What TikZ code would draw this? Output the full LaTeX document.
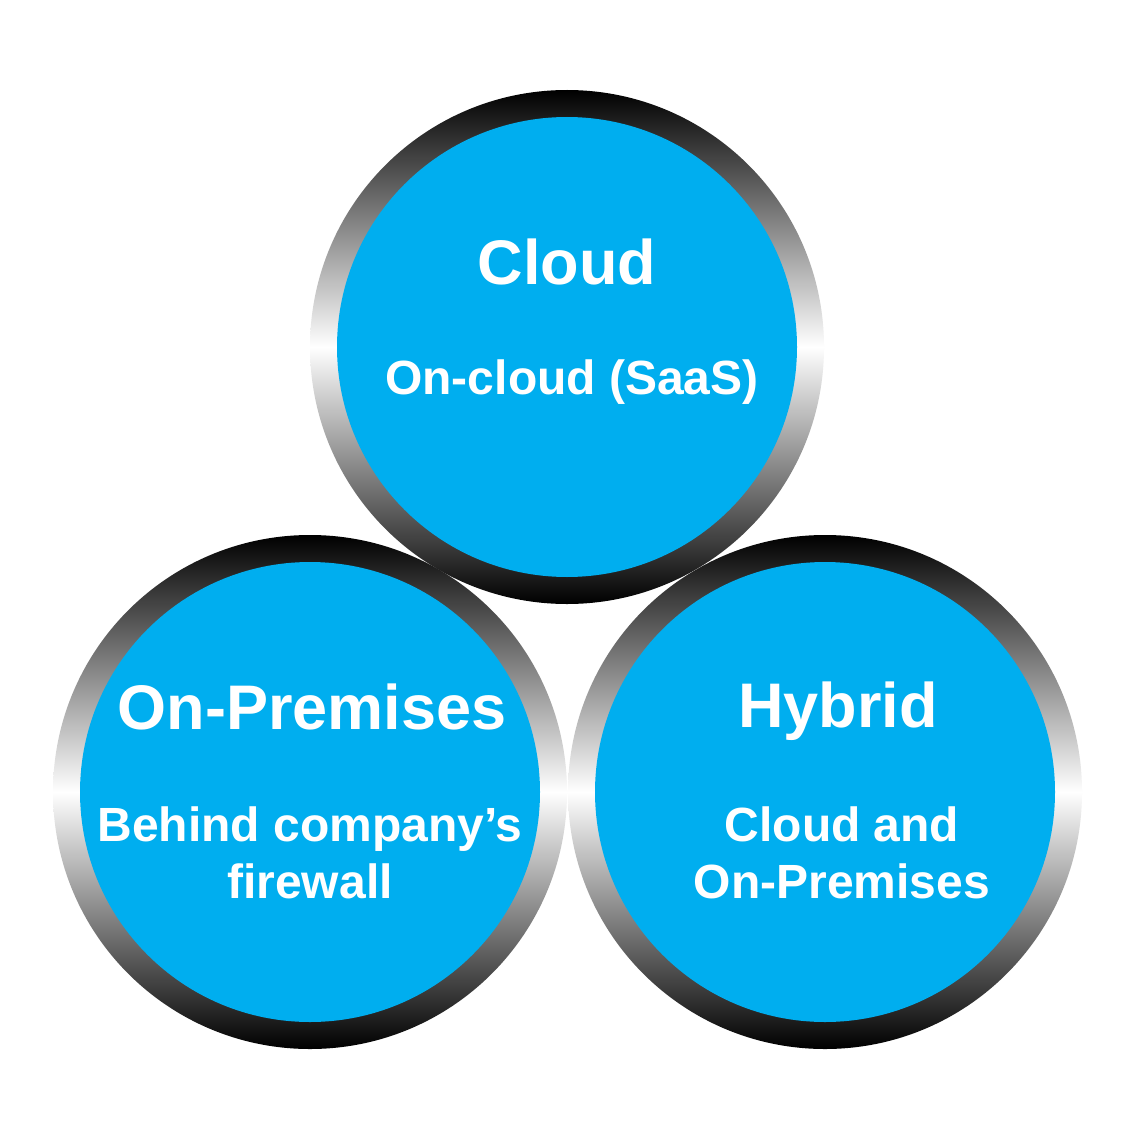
\documentclass[tikz,border=0pt]{standalone}
\usepackage{fontspec}
\setmainfont{Liberation Sans}
\usepackage{tikz}
\usepackage{xcolor}
\definecolor{skyblue}{HTML}{00AEEF}

\begin{document}
\begin{tikzpicture}[x=1pt, y=-1pt,
    ring/.style={circle, minimum size=514pt, inner sep=0, top color=black, bottom color=black, middle color=white},
    core/.style={circle, minimum size=460pt, inner sep=0, fill=skyblue},
    ttl/.style={text=white, font=\fontsize{63}{70}\selectfont\bfseries},
    sub/.style={text=white, align=center, font=\fontsize{48}{57.5}\selectfont\bfseries}]
\useasboundingbox[fill=white] (0,0) rectangle (1134,1134);
% lower circles first, top circle over them
\node[ring] (premring) at (310,792) {};
\node[core] (prem) at (310,792) {};
\node[ring] (hybring) at (825,792) {};
\node[core] (hyb) at (825,792) {};
\node[ring] (cloudring) at (567,347) {};
\node[core] (cloud) at (567,347) {};
% texts
\node[ttl] (cloudttl) at (567,262) {Cloud};
\node[sub] (cloudsub) at (572,382) {On-cloud (SaaS)};
\node[ttl] (premttl) at (312,707) {On-Premises};
\node[sub] (premsub) at (310,853) {Behind company’s\\firewall};
\node[ttl] (hybttl) at (838,711) {Hybrid};
\node[sub] (hybsub) at (842,853) {Cloud and\\On-Premises};
\end{tikzpicture}
\end{document}
